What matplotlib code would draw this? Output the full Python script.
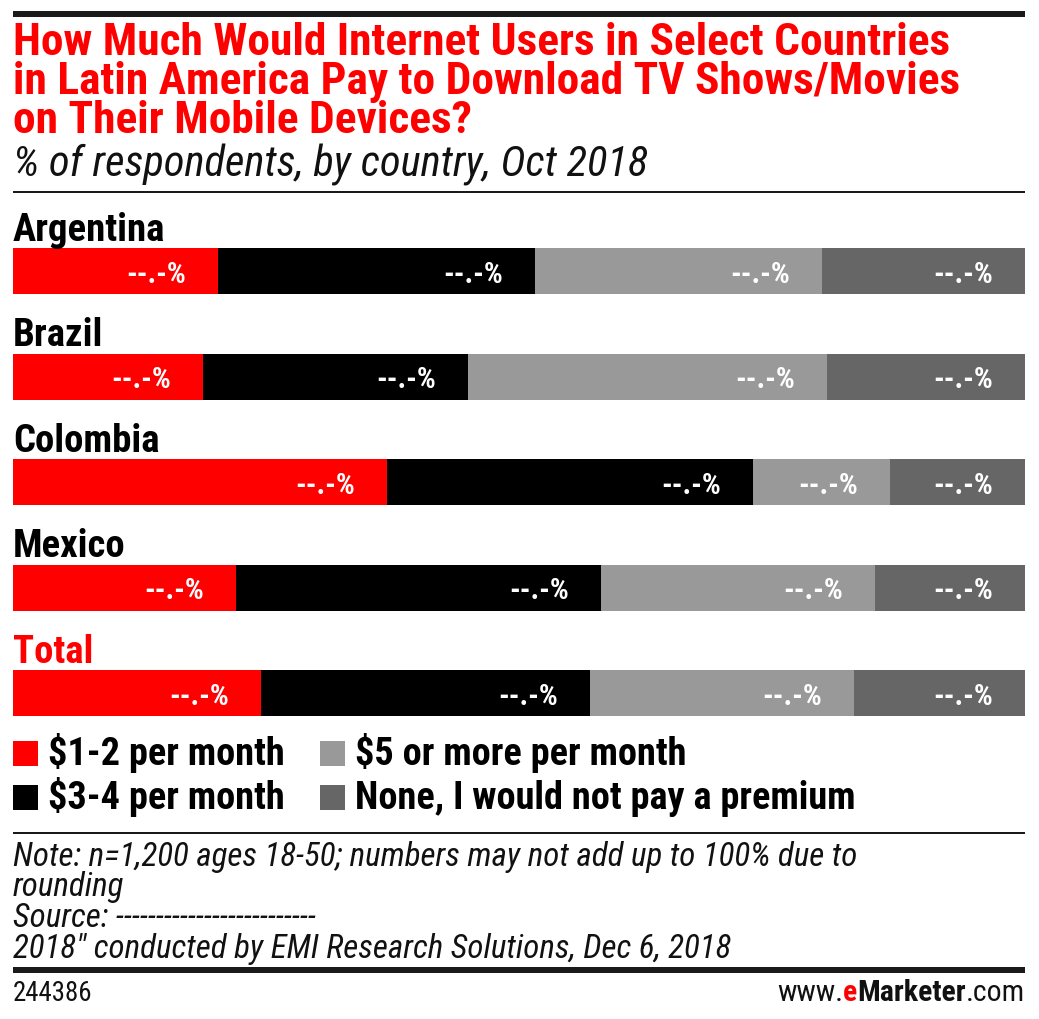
import matplotlib
matplotlib.use("Agg")
import matplotlib.pyplot as plt
from matplotlib import font_manager
from matplotlib.lines import Line2D
from matplotlib.patches import Rectangle

W, H = 1039, 1020

countries = ["Argentina", "Brazil", "Colombia", "Mexico", "Total"]
series = ["$1-2 per month", "$3-4 per month", "$5 or more per month",
          "None, I would not pay a premium"]
pay_1_2 = [20.3, 18.8, 37.0, 22.0, 24.5]
pay_3_4 = [31.3, 26.2, 36.1, 36.1, 32.5]
pay_5_plus = [28.3, 35.4, 13.6, 27.1, 26.1]
pay_none = [20.1, 19.6, 13.3, 14.8, 16.9]
bar_label = "--.-%"
colors = ["#ff0000", "#000000", "#999999", "#666666"]

title_lines = ["How Much Would Internet Users in Select Countries",
               "in Latin America Pay to Download TV Shows/Movies",
               "on Their Mobile Devices?"]
subtitle = "% of respondents, by country, Oct 2018"
note_lines = ["Note: n=1,200 ages 18-50; numbers may not add up to 100% due to",
              "rounding",
              "Source: -------------------------",
              "2018\" conducted by EMI Research Solutions, Dec 6, 2018"]
chart_id = "244386"

available = {f.name for f in font_manager.fontManager.ttflist}


def pick(cands):
    for c in cands:
        if c in available:
            return c
    return "DejaVu Sans"


FONT = pick(["Liberation Sans Narrow", "Roboto Condensed", "Open Sans Condensed", "Liberation Sans"])


def fx(x):
    return x / W


def fy(y):
    return 1 - y / H


def fit(texts, ref, target_px, renderer):
    w = ref.get_window_extent(renderer).width
    scale = target_px / w
    for t in texts:
        t.set_fontsize(t.get_fontsize() * scale)


def main():
    fig = plt.figure(figsize=(W / 100, H / 100), dpi=100)
    renderer = fig.canvas.get_renderer()

    def hline(y, lw_px):
        fig.add_artist(Line2D([fx(13), fx(1025)], [fy(y), fy(y)],
                              lw=lw_px * 0.72, color="#1a1a1a", solid_capstyle="butt"))

    hline(15, 6)
    hline(193, 2)
    hline(834, 2)
    hline(971, 6)

    common = dict(family=FONT, va="baseline", parse_math=False)

    # title + subtitle
    titles = [fig.text(fx(13), fy(b), s, color="#ff0000", fontweight="bold", fontsize=24, **common)
              for s, b in zip(title_lines, [55, 94, 133])]
    sub = fig.text(fx(13), fy(177), subtitle, color="#111111", style="italic", fontsize=24, **common)

    # bars
    ax = fig.add_axes([fx(13), fy(717), (1025 - 13) / W, (717 - 249) / H])
    ax.set_axis_off()
    h = 46 / 105.5
    ys = list(range(len(countries)))
    values = [pay_1_2, pay_3_4, pay_5_plus, pay_none]
    left = [0.0] * len(countries)
    seg_labels = []
    for vals, col in zip(values, colors):
        ax.barh(ys, vals, left=left, height=h, color=col, linewidth=0)
        for i, v in enumerate(vals):
            t = ax.annotate(bar_label, xy=(left[i] + v, i), xytext=(-23, -7.9),
                            textcoords="offset points", ha="right", color="white",
                            fontweight="bold", fontsize=16, **common)
            seg_labels.append(t)
        left = [a + b for a, b in zip(left, vals)]
    ax.set_xlim(0, 100)
    ax.set_ylim(len(countries) - 1 + h / 2, -h / 2)

    country_texts = []
    for i, name in enumerate(countries):
        t = ax.annotate(name, xy=(0, i - h / 2), xytext=(0, 5.8), textcoords="offset points",
                        ha="left", color="#ff0000" if name == "Total" else "black",
                        fontweight="bold", fontsize=18, annotation_clip=False, **common)
        country_texts.append(t)

    # legend
    leg_texts = []
    for k, (name, col) in enumerate(zip(series, colors)):
        row, colm = k % 2, k // 2
        sx = [13, 320][colm]
        sy = [742, 786][row]
        fig.add_artist(Rectangle((fx(sx), fy(sy + 25)), 25 / W, 25 / H,
                                 transform=fig.transFigure, color=col, lw=0))
        t = fig.text(fx(sx + 35), fy([765, 809][row]), name, color="black",
                     fontweight="bold", fontsize=18, **common)
        leg_texts.append(t)

    # notes
    notes = [fig.text(fx(13), fy(b), s, color="#111111", style="italic", fontsize=18, **common)
             for s, b in zip(note_lines, [866, 896, 927, 958])]

    cid = fig.text(fx(13), fy(1001), chart_id, color="#111111", fontsize=16, **common)

    pieces = [("www.", "#111111", "normal"), ("e", "#ff0000", "bold"),
              ("Marketer", "#111111", "bold"), (".com", "#111111", "normal")]
    brand = [fig.text(fx(777), fy(1001), s, color=c, fontweight=wt, fontsize=16, **common)
             for s, c, wt in pieces]

    fig.canvas.draw()
    fit(titles, titles[0], 940, renderer)
    fit([sub], sub, 637, renderer)
    fit(country_texts, country_texts[0], 152, renderer)
    fit(leg_texts, leg_texts[3], 500, renderer)
    fit(seg_labels, seg_labels[0], 60, renderer)
    fit(notes, notes[0], 845, renderer)
    fit([cid], cid, 80, renderer)

    total = sum(t.get_window_extent(renderer).width for t in brand)
    for t in brand:
        t.set_fontsize(t.get_fontsize() * 248 / total)
    x = 1025
    for t in reversed(brand):
        w = t.get_window_extent(renderer).width
        x -= w
        t.set_x(fx(x))

    fig.savefig("out.png", dpi=100)
    plt.close(fig)


if __name__ == "__main__":
    main()
